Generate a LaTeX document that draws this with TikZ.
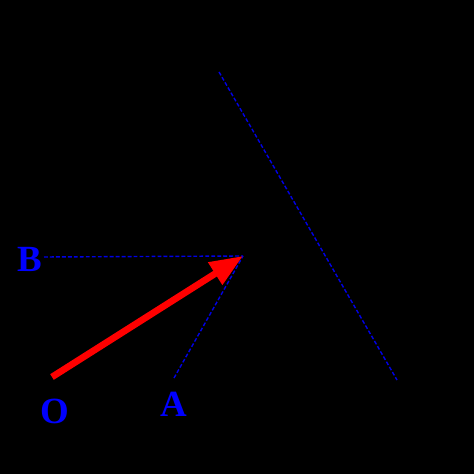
\documentclass[tikz,border=0pt]{standalone}
\usepackage{fontspec}
\setmainfont{Liberation Serif}
\usetikzlibrary{arrows.meta}
\tikzset{
  helper/.style={blue!90!black,line width=0.8pt,dash pattern=on 2.2pt off 1.2pt},
  pointlabel/.style={blue,font=\fontsize{21}{24}\selectfont\bfseries,inner sep=0pt}
}
\begin{document}
\begin{tikzpicture}
	% Draw the background
	\fill [black] (0,0) rectangle (9.48,9.48);
	\useasboundingbox (0,0) rectangle (9.48,9.48);

	% Points
	\coordinate (o) at (1.04,1.94);
	\coordinate (p) at (4.86,4.36);
	\coordinate (a) at (3.48,1.92);
	\coordinate (b) at (0.88,4.34);
	\coordinate (top) at (4.38,8.04);
	\coordinate (bot) at (7.94,1.88);

	% Draw the labels
	\node [pointlabel] (labO) at (1.10,1.26) {O};
	\node [pointlabel] (labA) at (3.48,1.40) {A};
	\node [pointlabel] (labB) at (0.60,4.30) {B};

	% Draw the dashed lines
	\draw [helper] (b) -- (p);
	\draw [helper] (a) -- (p);
	\draw [helper] (top) -- (bot);

	% Draw the vector
	\draw [red,line width=3.8pt,-{Triangle[length=0.66cm,width=0.5cm]}] (o) -- (p);
\end{tikzpicture}
\end{document}
